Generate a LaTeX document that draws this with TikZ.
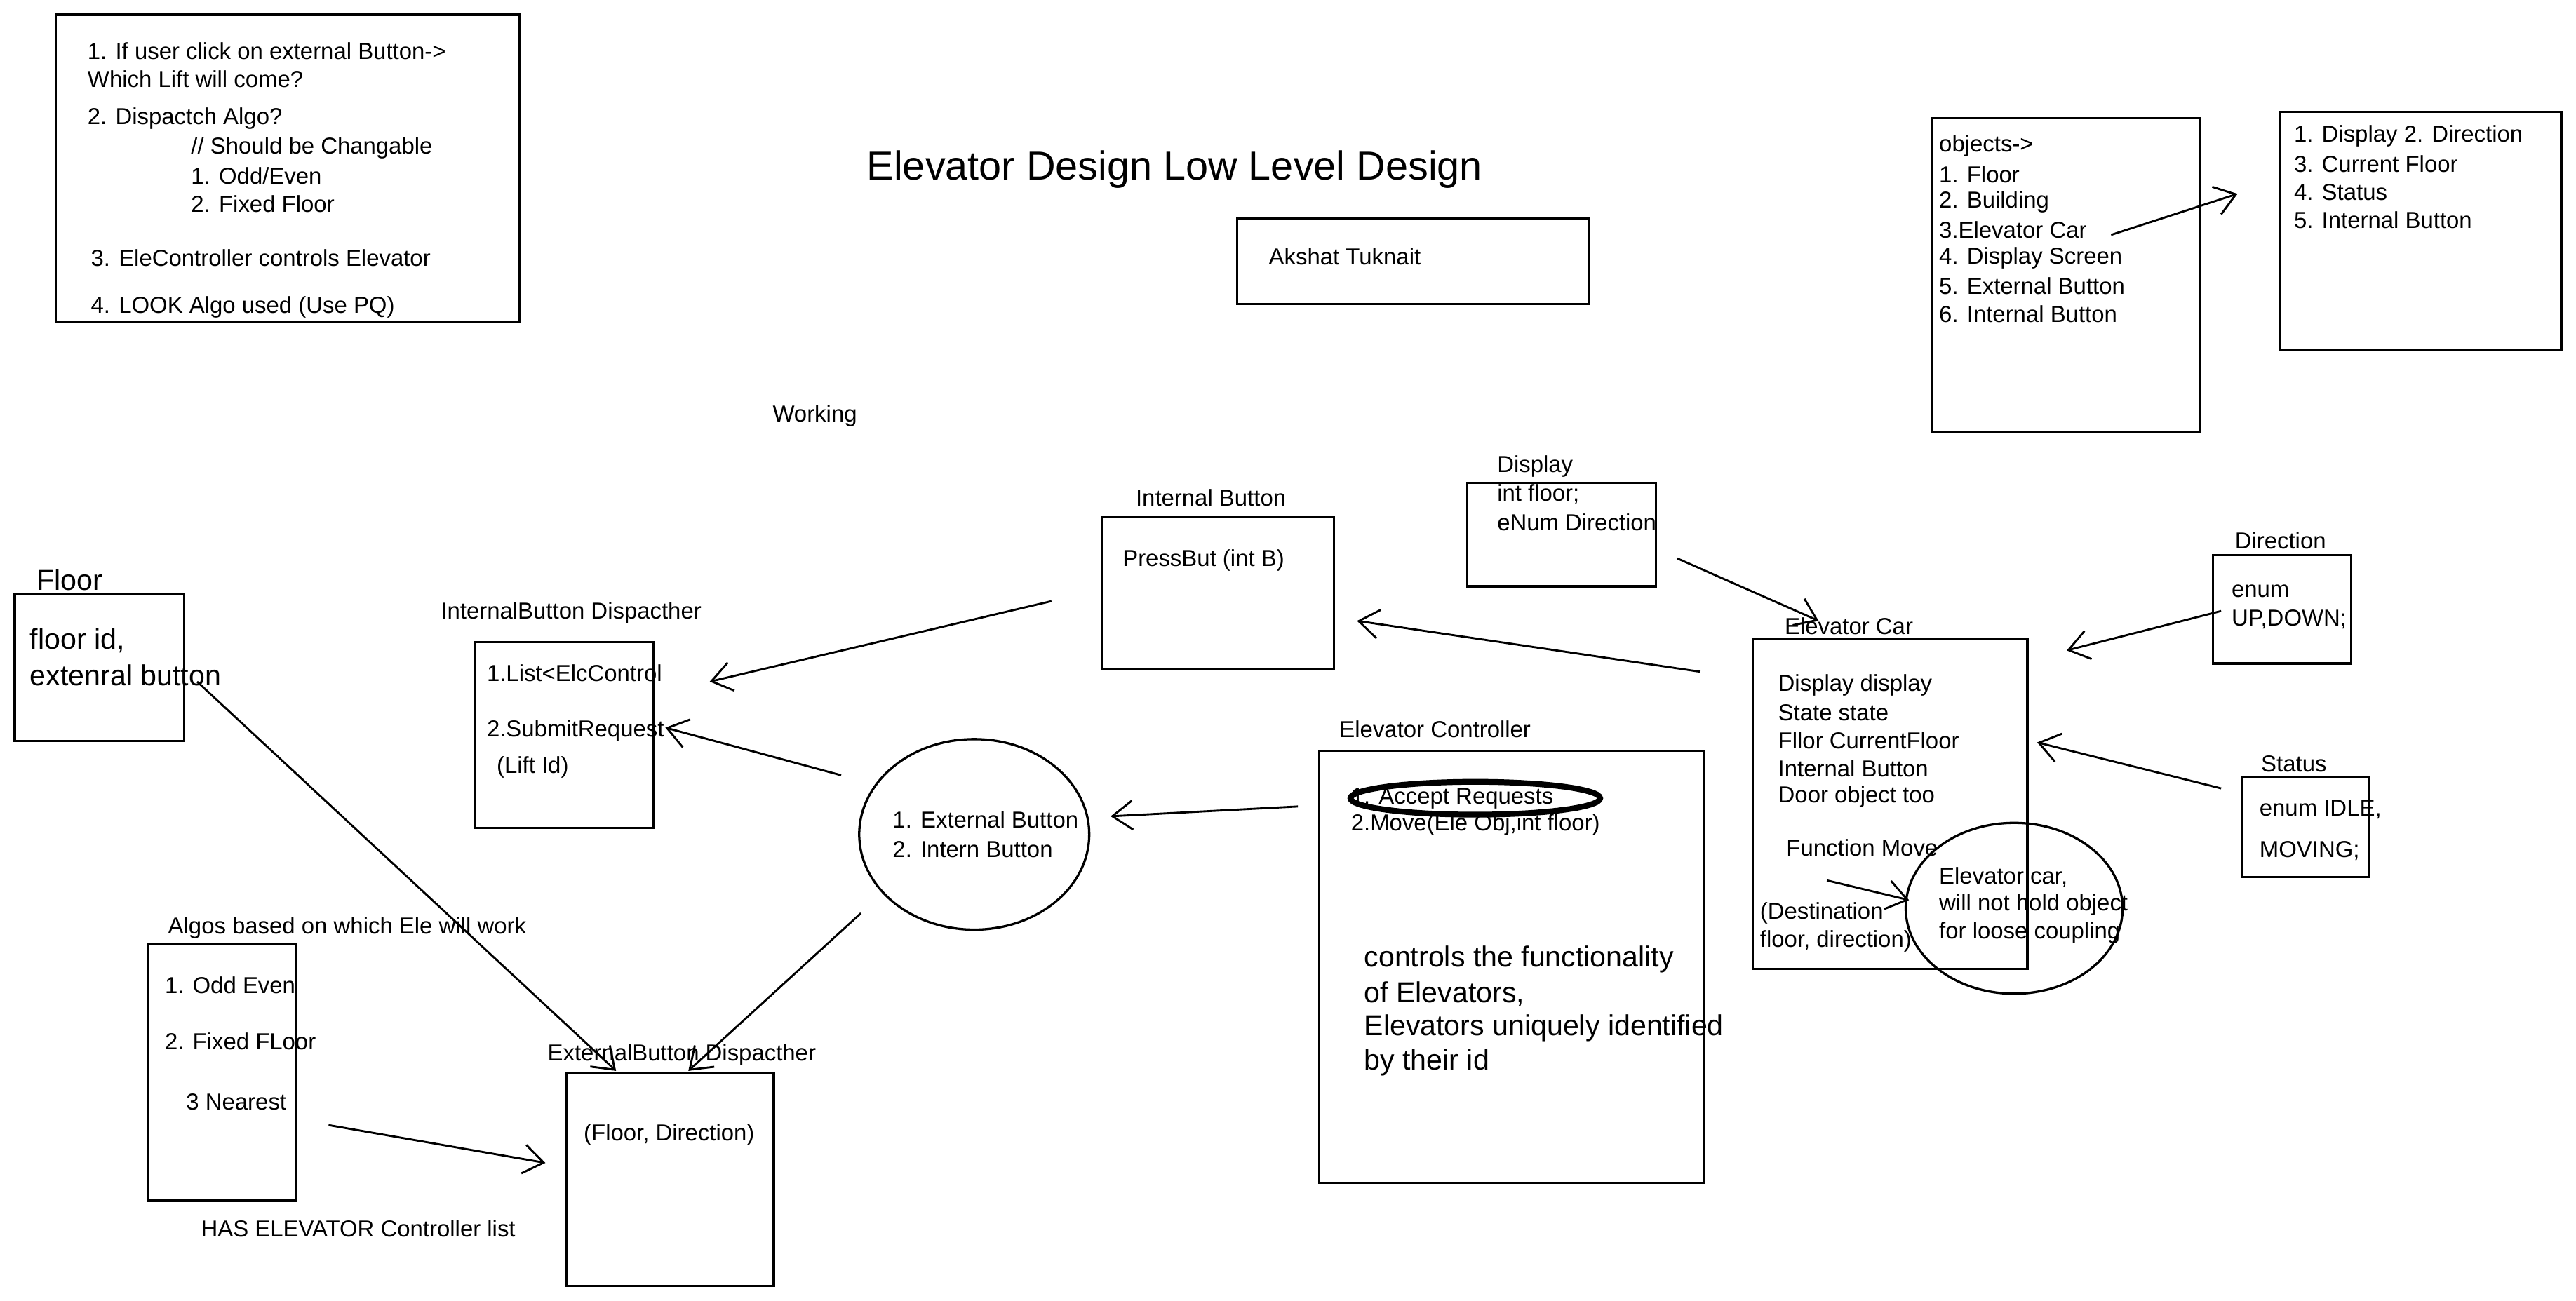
\documentclass[tikz,border=0pt]{standalone}
\usepackage{fontspec}
\setmainfont{Liberation Sans}
\usetikzlibrary{arrows.meta}
\begin{document}
\begin{tikzpicture}[x=0.02cm,y=-0.02cm,
 t/.style={anchor=west,inner sep=0,font=\fontsize{8}{10}\selectfont},
 tb/.style={anchor=west,inner sep=0,font=\fontsize{10}{12}\selectfont},
 box/.style={draw,line width=0.8pt},
 arr/.style={-{Straight Barb[length=7pt,width=10pt]},line width=0.7pt}]
\useasboundingbox (0,0) rectangle (1568,792);
% top-left notes
\draw[box] (34,9) rectangle (316,196);
\node[t] at (53,31) {1. If user click on external Button->};
\node[t] at (53,48) {Which Lift will come?};
\node[t] at (53,72) {2. Dispactch Algo?};
\node[t] at (116,90) {// Should be Changable};
\node[t] at (116,107) {1. Odd/Even};
\node[t] at (116,124) {2. Fixed Floor};
\node[t] at (55,157) {3. EleController controls Elevator};
\node[t] at (55,187) {4. LOOK Algo used (Use PQ)};
% title
\node[inner sep=0,font=\fontsize{14}{16}\selectfont] (title) at (715,103) {Elevator Design Low Level Design};
\draw[box] (753,133) rectangle (967,185);
\node[t] at (772,156) {Akshat Tuknait};
% objects
\draw[box] (1176,72) rectangle (1339,263);
\node[t] at (1180,89) {objects->};
\node[t] at (1180,106) {1. Floor};
\node[t] at (1180,123) {2. Building};
\node[t] at (1180,140) {3.Elevator Car};
\node[t] at (1180,157) {4. Display Screen};
\node[t] at (1180,174) {5. External Button};
\node[t] at (1180,191) {6. Internal Button};
\draw[box] (1388,68) rectangle (1559,213);
\node[t] at (1396,83) {1. Display 2. Direction};
\node[t] at (1396,100) {3. Current Floor};
\node[t] at (1396,117) {4. Status};
\node[t] at (1396,134) {5. Internal Button};
\draw[arr] (1285,143) -- (1362,118);
\node[t] at (470,253) {Working};
% Floor
\node[tb] at (22,353) {Floor};
\draw[box] (9,362) rectangle (112,451);
\node[tb] at (18,390) {floor id,};
\node[tb] at (18,411) {extenral button};
% Internal button dispatcher
\node[t] at (268,373) {InternalButton Dispacther};
\draw[box] (289,391) rectangle (398,504);
\node[t] at (296,410) {1.List<ElcControl};
\node[t] at (296,445) {2.SubmitRequest};
\node[t] at (302,467) {(Lift Id)};
% Internal button
\node[t] at (691,303) {Internal Button};
\draw[box] (671,315) rectangle (812,407);
\node[t] at (683,341) {PressBut (int B)};
% Display
\node[t] at (911,284) {Display};
\draw[box] (893,294) rectangle (1008,357);
\node[t] at (911,301) {int floor;};
\node[t] at (911,318) {eNum Direction};
% Direction
\node[t] at (1360,329) {Direction};
\draw[box] (1347,338) rectangle (1431,404);
\node[t] at (1358,360) {enum};
\node[t] at (1358,377) {UP,DOWN;};
% Elevator car
\node[t] at (1086,381) {Elevator Car};
\draw[box] (1067,389) rectangle (1234,590);
\node[t] at (1082,417) {Display display};
\node[t] at (1082,434) {State state};
\node[t] at (1082,451) {Fllor CurrentFloor};
\node[t] at (1082,468) {Internal Button};
\node[t] at (1082,485) {Door object too};
\node[t] at (1087,516) {Function Move};
\node[t] at (1071,556) {(Destination};
\node[t] at (1071,573) {floor, direction)};
\draw[line width=0.8pt] (1226,553) ellipse [x radius=66,y radius=52];
\node[t] at (1180,534) {Elevator car,};
\node[t] at (1180,551) {will not hold object};
\node[t] at (1180,568) {for loose coupling};
\draw[arr] (1112,536) -- (1162,548);
% Status
\node[t] at (1376,465) {Status};
\draw[box] (1365,473) rectangle (1442,534);
\node[t] at (1375,493) {enum IDLE,};
\node[t] at (1375,518) {MOVING;};
% Elevator controller
\node[t] at (815,444) {Elevator Controller};
\draw[box] (803,457) rectangle (1037,720);
\node[t] at (822,486) {1. Accept Requests};
\draw[line width=2pt] (898,486) ellipse [x radius=76,y radius=10];
\node[t] at (822,502) {2.Move(Ele Obj,int floor)};
\node[tb] at (830,584) {controls the functionality};
\node[tb] at (830,605) {of Elevators,};
\node[tb] at (830,626) {Elevators uniquely identified};
\node[tb] at (830,647) {by their id};
% circle
\draw[line width=0.8pt] (593,508) ellipse [x radius=70,y radius=58];
\node[t] at (543,499) {1. External Button};
\node[t] at (543,517) {2. Intern Button};
% Algos
\node[t] at (102,565) {Algos based on which Ele will work};
\draw[box] (90,575) rectangle (180,731);
\node[t] at (100,600) {1. Odd Even};
\node[t] at (100,634) {2. Fixed FLoor};
\node[t] at (113,671) {3 Nearest};
\node[t] at (122,748) {HAS ELEVATOR Controller list};
% External dispatcher
\node[t] at (333,642) {ExternalButton Dispacther};
\draw[box] (345,653) rectangle (471,783);
\node[t] at (355,691) {(Floor, Direction)};
% arrows
\draw[arr] (640,366) -- (432,415);
\draw[arr] (512,472) -- (405,443);
\draw[arr] (1035,409) -- (826,378);
\draw[arr] (1021,340) -- (1107,378);
\draw[arr] (1352,372) -- (1258,396);
\draw[arr] (1352,480) -- (1240,452);
\draw[arr] (790,491) -- (676,497);
\draw[arr] (524,556) -- (419,652);
\draw[arr] (120,415) -- (375,652);
\draw[arr] (200,685) -- (332,708);
\end{tikzpicture}
\end{document}
